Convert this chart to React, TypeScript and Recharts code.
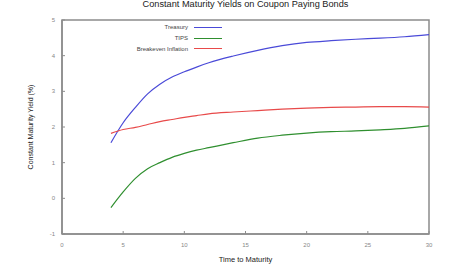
import React from 'react';
import { LineChart, Line, XAxis, YAxis, ReferenceArea } from 'recharts';

const maturities = [4, 5, 6, 7, 8, 9, 10, 11, 12, 14, 16, 18, 20, 22, 24, 26, 28, 30];
const treasury = [1.56, 2.12, 2.55, 2.93, 3.2, 3.4, 3.55, 3.68, 3.8, 3.99, 4.15, 4.28, 4.37, 4.42, 4.46, 4.49, 4.53, 4.59];
const tips = [-0.26, 0.18, 0.56, 0.83, 1.0, 1.15, 1.26, 1.35, 1.42, 1.56, 1.69, 1.77, 1.83, 1.87, 1.89, 1.92, 1.96, 2.03];
const breakeven = [1.82, 1.93, 1.99, 2.07, 2.15, 2.21, 2.27, 2.32, 2.37, 2.42, 2.46, 2.5, 2.53, 2.55, 2.56, 2.57, 2.57, 2.56];
const xTicks = [0, 5, 10, 15, 20, 25, 30];
const yTicks = [-1, 0, 1, 2, 3, 4, 5];
const xDomain = [0, 30];
const yDomain = [-1, 5];

const seriesNames = ['Treasury', 'TIPS', 'Breakeven Inflation'];
const seriesKeys = ['treasury', 'tips', 'breakeven'];
const seriesColors = ['#4a4ad8', '#2f8f2f', '#e84a4a'];

const data = maturities.map((m, i) => ({
  m,
  treasury: treasury[i],
  tips: tips[i],
  breakeven: breakeven[i],
}));

const FONT = 'Liberation Sans, Arial, sans-serif';
const axisColor = '#8c8c8c';
const tickStyle = { fontSize: 6, fill: '#888888', fontFamily: FONT };
const tickLineStyle = { stroke: axisColor, strokeWidth: 1 };

const LegendBox = () => (
  <div style={{ position: 'absolute', left: 112, top: 22, fontFamily: FONT, fontSize: 6, color: '#444' }}>
    {seriesNames.map((n, i) => (
      <div key={n} style={{ display: 'flex', alignItems: 'center', height: 10.7 }}>
        <div style={{ width: 76, textAlign: 'right', paddingRight: 6 }}>{n}</div>
        <div style={{ width: 28, height: 0, borderTop: `1.3px solid ${seriesColors[i]}` }} />
      </div>
    ))}
  </div>
);

const Texts = () => (
  <svg width={474} height={264} style={{ position: 'absolute', left: 0, top: 0, pointerEvents: 'none' }}>
    <text x={245.5} y={7} textAnchor="middle" fontFamily={FONT} fontSize={9.2} fill="#222">
      Constant Maturity Yields on Coupon Paying Bonds
    </text>
    <text x={245.5} y={262} textAnchor="middle" fontFamily={FONT} fontSize={7.5} fill="#222">
      Time to Maturity
    </text>
    <text x={0} y={0} transform="translate(33,127) rotate(-90)" textAnchor="middle" fontFamily={FONT} fontSize={7} fill="#222">
      Constant Maturity Yield (%)
    </text>
  </svg>
);

export default function App() {
  return (
    <div style={{ position: 'absolute', left: 0, top: 0, width: 474, height: 264, background: '#fff' }}>
      <LineChart width={474} height={264} data={data} margin={{ top: 19, right: 44, left: 2, bottom: 0 }}>
        <XAxis
          xAxisId="b"
          dataKey="m"
          type="number"
          domain={xDomain}
          ticks={xTicks}
          height={30}
          tickSize={-3}
          tickMargin={12}
          axisLine={{ stroke: axisColor, strokeWidth: 1.5 }}
          tickLine={tickLineStyle}
          tick={tickStyle}
        />
        <XAxis
          xAxisId="t"
          orientation="top"
          type="number"
          domain={xDomain}
          ticks={xTicks}
          height={1}
          tickSize={-3}
          axisLine={false}
          tickLine={tickLineStyle}
          tick={false}
        />
        <YAxis
          yAxisId="l"
          type="number"
          domain={yDomain}
          ticks={yTicks}
          width={60}
          tickSize={-3}
          tickMargin={10}
          axisLine={{ stroke: axisColor, strokeWidth: 1.5 }}
          tickLine={tickLineStyle}
          tick={tickStyle}
        />
        <YAxis
          yAxisId="r"
          orientation="right"
          type="number"
          domain={yDomain}
          ticks={yTicks}
          width={1}
          tickSize={-3}
          axisLine={false}
          tickLine={tickLineStyle}
          tick={false}
        />
        <ReferenceArea
          xAxisId="b"
          yAxisId="l"
          x1={xDomain[0]}
          x2={xDomain[1]}
          y1={yDomain[0]}
          y2={yDomain[1]}
          fill="none"
          fillOpacity={0}
          stroke={axisColor}
          strokeWidth={1.5}
          strokeOpacity={1}
          ifOverflow="visible"
        />
        {seriesKeys.map((k, i) => (
          <Line
            key={k}
            xAxisId="b"
            yAxisId="l"
            dataKey={k}
            name={seriesNames[i]}
            type="monotone"
            stroke={seriesColors[i]}
            strokeWidth={1.2}
            dot={false}
            isAnimationActive={false}
          />
        ))}
      </LineChart>
      <Texts />
      <LegendBox />
    </div>
  );
}
